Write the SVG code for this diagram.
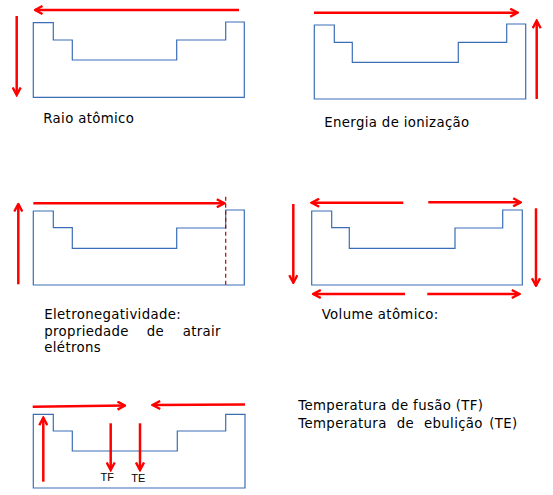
<svg xmlns="http://www.w3.org/2000/svg" width="553" height="495" viewBox="0 0 553 495">
<style>
.tbl{fill:none;stroke:#3a6db5;stroke-width:1.2}
.ar{fill:none;stroke:#ff0000;stroke-width:2.5;marker-end:url(#ah)}
.dash{fill:none;stroke:#c00000;stroke-width:1.2;stroke-dasharray:4 3}
.lbl{font-family:"DejaVu Sans",Verdana,sans-serif;font-size:13.3px;letter-spacing:0.35px;fill:#000}
.sm{font-family:"Liberation Sans",Arial,sans-serif;font-size:11px;fill:#000;text-anchor:middle}
</style>
<defs>
<marker id="ah" viewBox="0 0 10 10" refX="8.5" refY="5" markerWidth="10" markerHeight="10" markerUnits="userSpaceOnUse" orient="auto">
<path d="M1,1 L8.5,5 L1,9" fill="none" stroke="#ff0000" stroke-width="2.4"/>
</marker>
</defs>
<rect width="553" height="495" fill="#fff"/>

<g id="tabela-raio">
<path class="tbl" d="M33.3,22.7 H53.3 V40 H72.3 V60 H176.7 V40 H225.7 V22 H244.3 V97.3 H33.3 Z"/>
<text class="lbl" x="43.3" y="123">Raio atômico</text>
</g>

<g id="tabela-energia">
<path class="tbl" d="M314.3,25 H334.3 V42.3 H352.3 V62.3 H458.3 V42.3 H506.7 V24 H525.7 V99 H314.3 Z"/>
<text class="lbl" x="324.3" y="127">Energia de ionização</text>
</g>

<g id="tabela-eletronegatividade">
<path class="tbl" d="M33.3,211 H53.3 V227.7 H72.3 V248.3 H176.7 V228 H225.7 V210 H244.3 V285 H33.3 Z"/>
<text class="lbl" x="44.3" y="319.3">Eletronegatividade:</text>
<text class="lbl" y="336"><tspan x="44.3">propriedade</tspan><tspan x="146.7">de</tspan><tspan x="182.7">atrair</tspan></text>
<text class="lbl" x="44.3" y="351.7">elétrons</text>
</g>

<g id="tabela-volume">
<path class="tbl" d="M311.7,211 H331.7 V227.7 H349.3 V248.3 H455 V228 H502.7 V210 H522.3 V285 H311.7 Z"/>
<text class="lbl" x="321.7" y="319.3">Volume atômico:</text>
</g>

<g id="tabela-temperatura">
<path class="tbl" d="M33.3,414.3 H53.3 V431 H72.3 V451 H177.3 V431 H225.7 V414.3 H245 V488 H33.3 Z"/>
<text class="sm" x="107.3" y="481">TF</text>
<text class="sm" x="138.3" y="482.3">TE</text>
</g>

<g id="legenda-temperatura">
<text class="lbl" x="298.3" y="410">Temperatura de fusão (TF)</text>
<text class="lbl" y="428.3"><tspan x="298.3">Temperatura</tspan><tspan x="396.7">de</tspan><tspan x="424">ebulição</tspan><tspan x="489.3">(TE)</tspan></text>
</g>

<g id="conectores">
<line class="ar" x1="239" y1="10" x2="35" y2="10"/>
<line class="ar" x1="16.7" y1="16" x2="16.7" y2="95"/>

<line class="ar" x1="314" y1="12.7" x2="517.7" y2="12.7"/>
<line class="ar" x1="536.7" y1="99" x2="536.7" y2="20.7"/>

<line class="ar" x1="33.3" y1="203.3" x2="224.3" y2="203.3"/>
<line class="ar" x1="18.3" y1="284.3" x2="18.3" y2="204"/>
<line class="dash" x1="225.7" y1="196.7" x2="225.7" y2="285"/>

<line class="ar" x1="403.3" y1="202.7" x2="311.7" y2="202.7"/>
<line class="ar" x1="428.3" y1="202.3" x2="520.7" y2="202.3"/>
<line class="ar" x1="293.3" y1="204" x2="293.3" y2="282.7"/>
<line class="ar" x1="536" y1="208.3" x2="536" y2="285.7"/>
<line class="ar" x1="405" y1="294" x2="313.3" y2="294"/>
<line class="ar" x1="427.3" y1="294" x2="519.3" y2="294"/>

<line class="ar" x1="32.7" y1="406.7" x2="125" y2="405.5"/>
<line class="ar" x1="245" y1="404.5" x2="152.7" y2="405"/>
<line class="ar" x1="43.3" y1="481.7" x2="43.3" y2="417.7"/>
<line class="ar" x1="110.7" y1="423.3" x2="110.7" y2="470"/>
<line class="ar" x1="140" y1="423.3" x2="140" y2="470"/>
</g>
</svg>
